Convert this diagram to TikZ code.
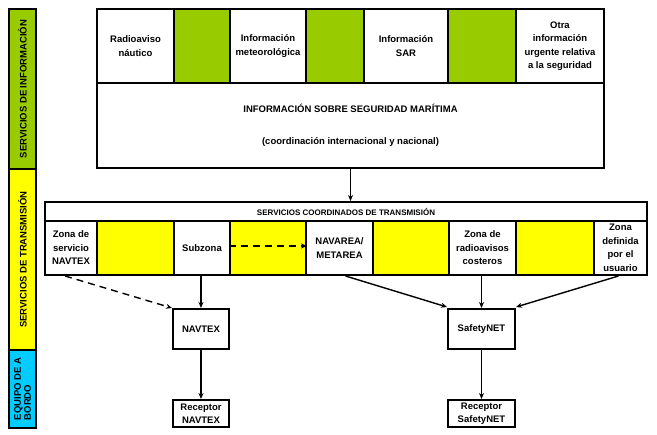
\documentclass[tikz,border=0pt]{standalone}
\usepackage{fontspec}
\setmainfont{Liberation Sans}
\usepackage{tikz}
\usetikzlibrary{positioning,arrows.meta}
\definecolor{InfoGreen}{RGB}{153,204,0}
\definecolor{TxYellow}{RGB}{255,255,0}
\definecolor{BordCyan}{RGB}{0,204,255}
\tikzset{
  % Table cell
  cell/.style={
    draw=black,
    line width=2pt,
    anchor=north west,
    inner sep=0pt,
    align=center,
    font=\fontsize{9.5}{13.5}\selectfont\bfseries
  },
  % Box on board
  box/.style={
    draw=black,
    line width=2pt,
    inner sep=0pt,
    align=center,
    font=\fontsize{9.5}{13}\selectfont\bfseries
  },
  % Side band
  band/.style={
    draw=black,
    line width=2pt,
    anchor=north west
  },
  bandtext/.style={
    rotate=90,
    align=left,
    font=\fontsize{9.5}{10}\selectfont\bfseries
  },
  % Arrow
  link/.style={
    draw=black,
    line width=1.4pt,
    -{Stealth[length=6pt,width=5pt]}
  },
  dlink/.style={
    link,
    dash pattern=on 7pt off 5pt
  }
}
\begin{document}
\begin{tikzpicture}[x=1pt,y=-1pt]
  \useasboundingbox (0,0) rectangle (657,435);

  % side bands
  \node[band, fill=InfoGreen, minimum width=27pt, minimum height=160pt] (bInfo) at (8,8) {};
  \node[bandtext] at (bInfo.center) {SERVICIOS DE INFORMACIÓN};
  \node[band, fill=TxYellow, minimum width=27pt, minimum height=181pt] (bTx) at (8,168) {};
  \node[bandtext] at (bTx.center) {SERVICIOS DE TRANSMISIÓN};
  \node[band, fill=BordCyan, minimum width=27pt, minimum height=78pt] (bBord) at (8,349) {};
  \node[bandtext] at (bBord.center) {EQUIPO DE A\\BORDO};

  % information services
  \node[cell, minimum width=77pt, minimum height=74pt] (radio) at (96,8) {Radioaviso\\náutico};
  \node[cell, fill=InfoGreen, minimum width=56pt, minimum height=74pt] (g1) at (173,8) {};
  \node[cell, minimum width=76pt, minimum height=74pt] (meteo) at (229,8) {Información\\meteorológica};
  \node[cell, fill=InfoGreen, minimum width=58pt, minimum height=74pt] (g2) at (305,8) {};
  \node[cell, minimum width=84pt, minimum height=74pt] (sar) at (363,8) {Información\\SAR};
  \node[cell, fill=InfoGreen, minimum width=68pt, minimum height=74pt] (g3) at (447,8) {};
  \node[cell, minimum width=88pt, minimum height=74pt] (otra) at (515,8) {Otra\\información\\urgente relativa\\a la seguridad};
  \node[cell, minimum width=507pt, minimum height=85pt] (msi) at (96,82) {INFORMACIÓN SOBRE SEGURIDAD MARÍTIMA\\[18pt](coordinación internacional y nacional)};

  % transmission services
  \node[cell, minimum width=602pt, minimum height=19pt, font=\fontsize{8}{9}\selectfont\bfseries] (coord) at (44,201) {SERVICIOS COORDINADOS DE TRANSMISIÓN};
  \begin{scope}[every node/.append style={font=\fontsize{9.5}{13}\selectfont\bfseries}]
  \node[cell, minimum width=52pt, minimum height=54pt] (zNav) at (44,220) {Zona de\\servicio\\NAVTEX};
  \node[cell, fill=TxYellow, minimum width=77pt, minimum height=54pt] (y1) at (96,220) {};
  \node[cell, minimum width=56pt, minimum height=54pt] (sub) at (173,220) {Subzona};
  \node[cell, fill=TxYellow, minimum width=76pt, minimum height=54pt] (y2) at (229,220) {};
  \node[cell, minimum width=67pt, minimum height=54pt] (navarea) at (305,220) {NAVAREA/\\METAREA};
  \node[cell, fill=TxYellow, minimum width=76pt, minimum height=54pt] (y3) at (372,220) {};
  \node[cell, minimum width=67pt, minimum height=54pt] (costa) at (448,220) {Zona de\\radioavisos\\costeros};
  \node[cell, fill=TxYellow, minimum width=78pt, minimum height=54pt] (y4) at (515,220) {};
  \node[cell, minimum width=53pt, minimum height=54pt] (usr) at (593,220) {Zona\\definida\\por el\\usuario};
  \end{scope}

  % equipment
  \node[box, minimum width=56pt, minimum height=40pt] (navtex) at (201,329) {NAVTEX};
  \node[box, minimum width=56pt, minimum height=27pt] (rNavtex) at (201,413.5) {Receptor\\NAVTEX};
  \node[box, minimum width=67pt, minimum height=40pt] (safety) at (481.5,329) {SafetyNET};
  \node[box, minimum width=67pt, minimum height=27pt] (rSafety) at (481.5,413.5) {Receptor\\SafetyNET};

  % connectors
  \draw[link] (msi.south) -- (coord.north -| msi.south);
  \draw[dlink] (y2.west) ++(0,-2) coordinate (d0) -- (d0 -| y2.east);
  \draw[dlink] ([xshift=-6pt]zNav.south) -- (navtex.north west);
  \draw[link] (sub.south -| navtex.north) -- (navtex.north);
  \draw[link] (navtex) -- (rNavtex);
  \draw[link] ([xshift=6pt]navarea.south) -- ([yshift=1pt]safety.north west);
  \draw[link] (costa.south -| safety.north) -- (safety.north);
  \draw[link] ([xshift=-2pt]usr.south) -- ([yshift=1pt]safety.north east);
  \draw[link] (safety) -- (rSafety);
\end{tikzpicture}
\end{document}
